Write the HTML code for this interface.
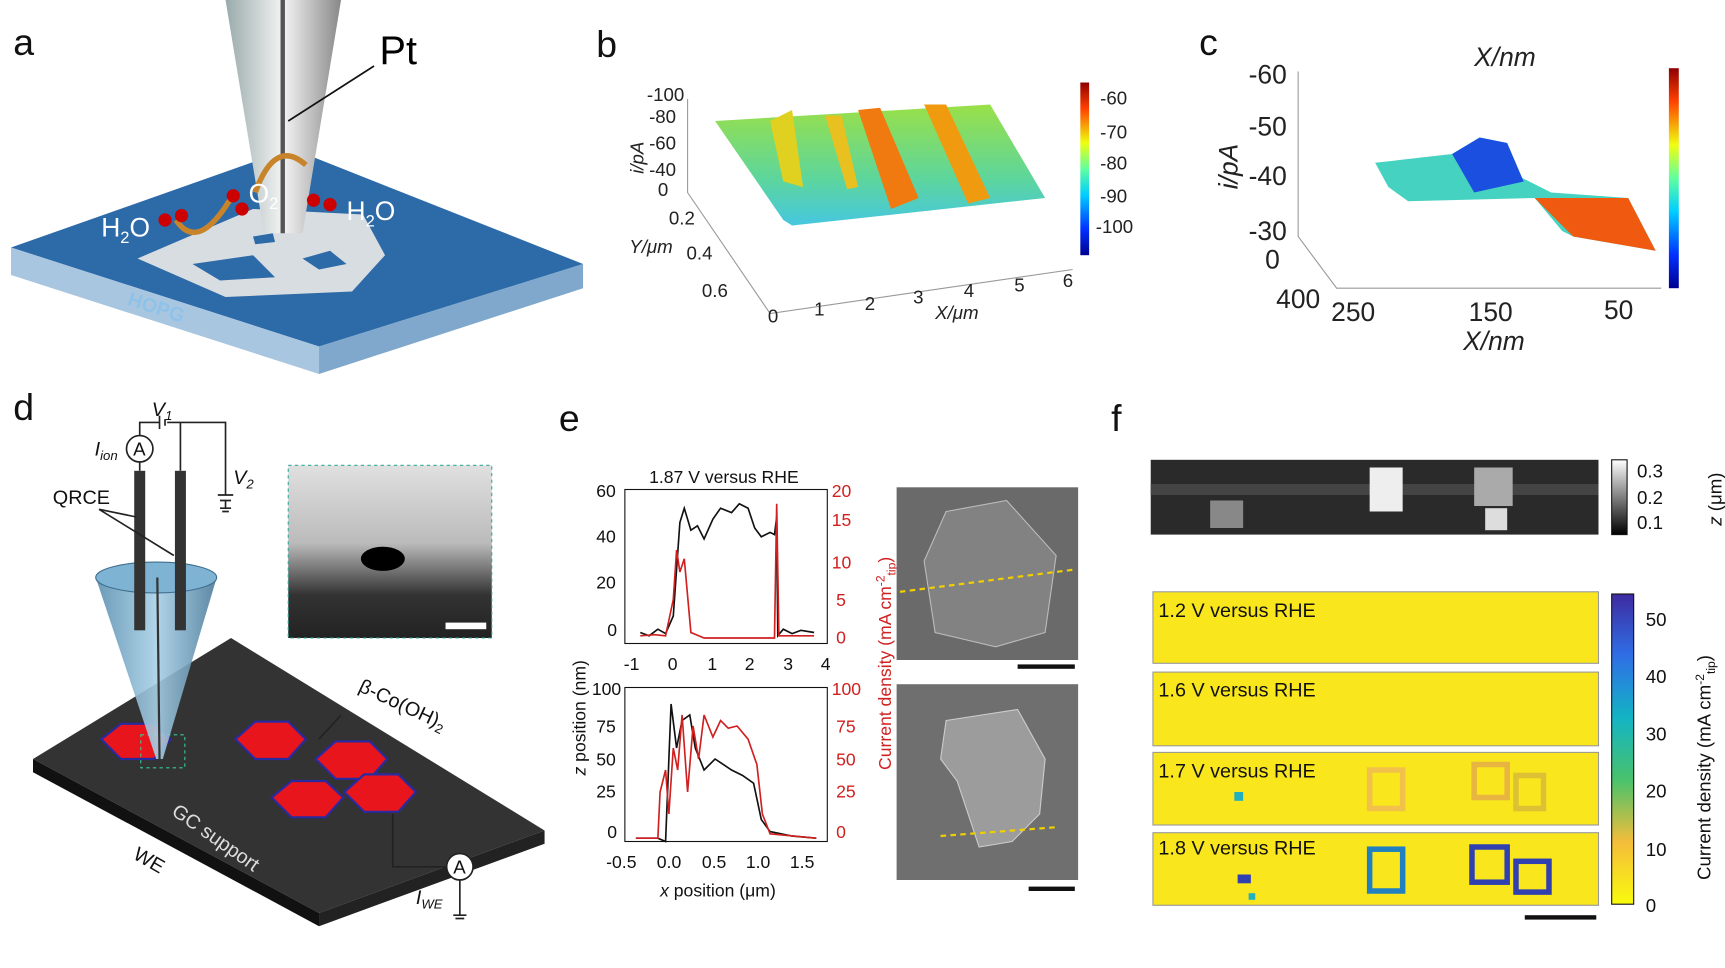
<!DOCTYPE html>
<html><head><meta charset="utf-8"><style>
html,body{margin:0;padding:0;background:#fff;}
svg{display:block;font-family:"Liberation Sans",sans-serif;}
</style></head><body>
<svg width="1725" height="968" viewBox="0 0 1568 880" preserveAspectRatio="none" xmlns="http://www.w3.org/2000/svg">
<defs>
<linearGradient id="jet" x1="0" y1="1" x2="0" y2="0">
<stop offset="0" stop-color="#00008f"/><stop offset="0.15" stop-color="#0030ff"/><stop offset="0.35" stop-color="#00cfff"/><stop offset="0.5" stop-color="#60ff9f"/><stop offset="0.65" stop-color="#efff10"/><stop offset="0.85" stop-color="#ff4000"/><stop offset="1" stop-color="#8f0000"/>
</linearGradient>
<linearGradient id="parula" x1="0" y1="1" x2="0" y2="0">
<stop offset="0" stop-color="#f9fb0e"/><stop offset="0.2" stop-color="#f4bd3a"/><stop offset="0.4" stop-color="#4ac26c"/><stop offset="0.6" stop-color="#13b4c4"/><stop offset="0.8" stop-color="#2f6fe6"/><stop offset="1" stop-color="#3e2ba0"/>
</linearGradient>
<linearGradient id="gray" x1="0" y1="1" x2="0" y2="0"><stop offset="0" stop-color="#000"/><stop offset="1" stop-color="#fff"/></linearGradient>
<linearGradient id="surfb" x1="0" y1="0" x2="0" y2="1"><stop offset="0" stop-color="#9ae048"/><stop offset="0.6" stop-color="#5ed69a"/><stop offset="1" stop-color="#46c7e0"/></linearGradient>
<linearGradient id="tip" x1="0" y1="0" x2="1" y2="0"><stop offset="0" stop-color="#9aa"/><stop offset="0.5" stop-color="#f4f4f4"/><stop offset="1" stop-color="#888"/></linearGradient>
<linearGradient id="cone" x1="0" y1="0" x2="1" y2="0"><stop offset="0" stop-color="#5a8fb0"/><stop offset="0.5" stop-color="#a8d0e6"/><stop offset="1" stop-color="#4a7a9a"/></linearGradient>
<linearGradient id="inset" x1="0" y1="0" x2="0" y2="1"><stop offset="0" stop-color="#e0e0e0"/><stop offset="0.45" stop-color="#bbb"/><stop offset="0.75" stop-color="#333"/><stop offset="1" stop-color="#222"/></linearGradient>
</defs>
<g font-size="34" fill="#111">
<text x="12" y="50">a</text><text x="542" y="52">b</text><text x="1090" y="50">c</text>
<text x="12" y="382">d</text><text x="508" y="392">e</text><text x="1010" y="392">f</text>
</g>
<!-- panel a -->
<polygon points="10,225 265,135 530,240 290,315" fill="#2d6aa8"/>
<polygon points="10,225 290,315 290,340 10,250" fill="#a9c6e0"/>
<polygon points="290,315 530,240 530,262 290,340" fill="#7fa8cc"/>
<polygon points="125,235 230,190 330,195 350,232 320,265 205,270" fill="#d8dde2"/>
<polygon points="175,240 230,232 250,252 200,255" fill="#2d6aa8"/>
<polygon points="275,235 300,228 315,240 290,245" fill="#2d6aa8"/>
<polygon points="230,215 248,212 250,220 232,222" fill="#2d6aa8"/>
<text x="115" y="277" font-size="18" font-weight="bold" fill="#8fc2e8" transform="rotate(18 115 277)">HOPG</text>
<polygon points="205,0 310,0 275,212 240,212" fill="url(#tip)"/>
<line x1="257" y1="0" x2="257" y2="212" stroke="#555" stroke-width="4"/>
<line x1="262" y1="110" x2="340" y2="60" stroke="#111" stroke-width="1.5"/>
<text x="345" y="58" font-size="36">Pt</text>
<path d="M232,175 Q250,125 278,150" fill="none" stroke="#c8842a" stroke-width="5"/>
<path d="M160,200 Q180,230 210,180" fill="none" stroke="#c8842a" stroke-width="5"/>
<circle cx="212" cy="178" r="6" fill="#c00"/><circle cx="220" cy="190" r="6" fill="#c00"/>
<circle cx="150" cy="200" r="6" fill="#c00"/><circle cx="165" cy="196" r="6" fill="#c00"/>
<circle cx="285" cy="182" r="6" fill="#c00"/><circle cx="300" cy="186" r="6" fill="#c00"/>
<g fill="#fff" font-size="24"><text x="226" y="184">O<tspan font-size="15" dy="6">2</tspan></text>
<text x="92" y="215">H<tspan font-size="15" dy="6">2</tspan><tspan dy="-6">O</tspan></text>
<text x="315" y="200">H<tspan font-size="15" dy="6">2</tspan><tspan dy="-6">O</tspan></text></g>
<!-- panel b -->
<polygon points="650,110 900,95 950,180 720,205 712,200" fill="url(#surfb)"/>
<polygon points="700,110 720,100 730,170 712,165" fill="#e0d020"/>
<polygon points="780,100 800,98 835,180 810,190" fill="#f07a10"/>
<polygon points="840,95 860,95 900,180 880,185" fill="#f09a10"/>
<polygon points="750,105 765,105 780,170 770,172" fill="#e8c020"/>
<g stroke="#999" fill="none"><path d="M625,90 L625,175 L700,285 L975,245"/></g>
<g font-size="17" fill="#222" font-style="normal">
<text x="588" y="92">-100</text><text x="590" y="112">-80</text><text x="590" y="136">-60</text><text x="590" y="160">-40</text><text x="598" y="178">0</text>
<text x="608" y="204">0.2</text><text x="624" y="236">0.4</text><text x="638" y="270">0.6</text>
<text x="572" y="230" font-style="italic">Y/μm</text>
<text x="698" y="293">0</text><text x="740" y="287">1</text><text x="786" y="282">2</text><text x="830" y="276">3</text><text x="876" y="270">4</text><text x="922" y="265">5</text><text x="966" y="261">6</text>
<text x="850" y="290" font-style="italic">X/μm</text>
<text x="585" y="158" font-style="italic" transform="rotate(-90 585 158)">i/pA</text>
</g>
<rect x="982" y="75" width="8" height="157" fill="url(#jet)"/>
<g font-size="17" fill="#222"><text x="1000" y="95">-60</text><text x="1000" y="126">-70</text><text x="1000" y="154">-80</text><text x="1000" y="184">-90</text><text x="996" y="212">-100</text></g>
<!-- panel c -->
<polygon points="1250,148 1320,140 1345,125 1370,130 1380,160 1410,175 1480,180 1505,228 1430,215 1420,210 1395,180 1280,183 1262,170" fill="#46d2c0"/>
<polygon points="1320,140 1345,125 1370,130 1385,165 1340,175" fill="#1a4fe0"/>
<polygon points="1395,180 1480,180 1505,228 1430,215" fill="#f05a10"/>
<g stroke="#999" fill="none"><path d="M1180,65 L1180,215 L1215,262 L1510,262"/></g>
<g font-size="24" fill="#222"><text x="1135" y="76">-60</text><text x="1135" y="123">-50</text><text x="1135" y="168">-40</text><text x="1135" y="218">-30</text><text x="1150" y="244">0</text>
<text x="1160" y="280">400</text><text x="1210" y="292">250</text><text x="1335" y="292">150</text><text x="1458" y="290">50</text>
<text x="1330" y="318" font-style="italic">X/nm</text><text x="1340" y="60" font-style="italic">X/nm</text>
<text x="1125" y="172" font-style="italic" transform="rotate(-90 1125 172)">i/pA</text></g>
<rect x="1517" y="62" width="9" height="200" fill="url(#jet)"/>
<!-- panel d -->
<polygon points="30,690 210,580 495,755 290,830" fill="#333"/>
<polygon points="30,690 290,830 290,842 30,702" fill="#111"/>
<polygon points="290,830 495,755 495,767 290,842" fill="#222"/>
<g fill="#e8161c" stroke="#2a2aa0" stroke-width="2">
<polygon points="92,672 110,658 140,658 155,672 140,690 110,690"/>
<polygon points="214,672 232,656 262,656 278,672 262,690 232,690"/>
<polygon points="287,690 305,674 336,674 352,690 336,708 305,708"/>
<polygon points="247,725 265,710 296,710 312,725 296,743 265,743"/>
<polygon points="313,720 331,704 362,704 378,720 362,738 331,738"/>
</g>
<rect x="128" y="668" width="40" height="30" fill="none" stroke="#3c9" stroke-dasharray="3,3"/>
<polygon points="87,525 197,525 148,690 142,690" fill="url(#cone)" opacity="0.9"/>
<ellipse cx="142" cy="525" rx="55" ry="14" fill="#7fb3d3" stroke="#3f6f8f"/>
<rect x="122" y="428" width="10" height="145" fill="#333"/><rect x="159" y="428" width="10" height="145" fill="#333"/>
<line x1="143" y1="525" x2="145" y2="690" stroke="#333" stroke-width="2"/>
<g stroke="#222" fill="none" stroke-width="1.5"><path d="M127,428 V408"/><circle cx="127" cy="408" r="12" fill="#fff"/><path d="M127,396 V384 H145 M152,384 H205 V450 M164,428 V384"/><path d="M145,378 V390 M150,381 V387"/><path d="M198,450 H212 M200,455 H210 M205,455 V462 M200,462 H210 M202,465 H208"/>
<path d="M90,463 L124,470 M90,463 L158,505"/>
<path d="M357,740 V788 H405"/><circle cx="418" cy="788" r="12" fill="#fff"/><path d="M418,800 V832 M412,832 H424 M414,835 H422"/>
<path d="M310,650 L290,672"/></g>
<g font-size="18" fill="#111"><text x="121" y="414" font-size="17">A</text><text x="412" y="794" font-size="17">A</text>
<text x="138" y="378" font-style="italic">V<tspan font-size="12" dy="4">1</tspan></text>
<text x="212" y="440" font-style="italic">V<tspan font-size="12" dy="4">2</tspan></text>
<text x="86" y="414" font-style="italic">I<tspan font-size="12" dy="4">ion</tspan></text>
<text x="48" y="458">QRCE</text>
<text x="378" y="822" font-style="italic">I<tspan font-size="12" dy="4">WE</tspan></text>
<text x="120" y="780" transform="rotate(30 120 780)">WE</text>
<text x="155" y="740" fill="#ddd" transform="rotate(35 155 740)">GC support</text>
<text x="325" y="628" transform="rotate(25 325 628)">β-Co(OH)<tspan font-size="12" dy="4">2</tspan></text></g>
<rect x="262" y="423" width="185" height="157" fill="url(#inset)" stroke="#3a9" stroke-dasharray="3,3"/>
<ellipse cx="348" cy="508" rx="20" ry="11" fill="#000"/>
<rect x="405" y="566" width="37" height="6" fill="#fff"/>
<!-- panel e -->
<g font-size="16" fill="#111">
<text x="590" y="439">1.87 V versus RHE</text>
<rect x="568" y="445" width="184" height="140" fill="none" stroke="#111"/>
<rect x="568" y="625" width="184" height="140" fill="none" stroke="#111"/>
<text x="542" y="452">60</text><text x="542" y="493">40</text><text x="542" y="535">20</text><text x="552" y="578">0</text>
<text x="567" y="609">-1</text><text x="607" y="609">0</text><text x="643" y="609">1</text><text x="677" y="609">2</text><text x="712" y="609">3</text><text x="746" y="609">4</text>
<g fill="#d02020"><text x="756" y="452">20</text><text x="756" y="478">15</text><text x="756" y="517">10</text><text x="760" y="551">5</text><text x="760" y="585">0</text>
<text x="756" y="632">100</text><text x="760" y="666">75</text><text x="760" y="696">50</text><text x="760" y="725">25</text><text x="760" y="762">0</text>
<text x="810" y="700" transform="rotate(-90 810 700)">Current density (mA cm<tspan font-size="11" dy="-6">-2</tspan><tspan font-size="11" dy="10">tip</tspan><tspan dy="-4">)</tspan></text></g>
<text x="538" y="632">100</text><text x="542" y="666">75</text><text x="542" y="696">50</text><text x="542" y="725">25</text><text x="552" y="762">0</text>
<text x="551" y="789">-0.5</text><text x="597" y="789">0.0</text><text x="638" y="789">0.5</text><text x="678" y="789">1.0</text><text x="718" y="789">1.5</text>
<text x="600" y="815"><tspan font-style="italic">x</tspan> position (μm)</text>
<text x="532" y="705" transform="rotate(-90 532 705)"><tspan font-style="italic">z</tspan> position (nm)</text>
</g>
<polyline fill="none" stroke="#111" stroke-width="1.5" points="582,575 590,578 598,572 605,576 612,560 618,475 622,462 628,482 634,478 640,490 648,472 655,462 665,466 672,458 680,462 686,480 692,488 700,484 704,486 706,470 707,578 712,572 720,576 728,573 740,575"/>
<polyline fill="none" stroke="#d02020" stroke-width="1.5" points="582,578 595,577 605,578 612,545 615,500 618,520 622,508 628,575 640,580 680,580 704,580 706,458 708,578 740,578"/>
<polyline fill="none" stroke="#111" stroke-width="1.5" points="578,762 598,762 605,765 610,640 615,680 620,655 627,650 632,680 640,700 650,690 665,700 675,705 685,712 692,745 700,756 720,760 742,762"/>
<polyline fill="none" stroke="#d02020" stroke-width="1.5" points="578,762 598,762 600,720 605,700 608,740 612,680 616,700 620,650 625,720 630,660 635,690 640,650 648,670 655,655 662,662 670,660 680,672 688,695 693,740 700,758 742,762"/>
<rect x="815" y="443" width="165" height="157" fill="#6a6a6a"/>
<polygon points="860,465 915,455 960,505 950,575 905,588 850,575 840,510" fill="#828282" stroke="#bbb"/>
<line x1="818" y1="538" x2="975" y2="518" stroke="#f0d000" stroke-width="2" stroke-dasharray="5,4"/>
<rect x="925" y="604" width="52" height="4" fill="#111"/>
<rect x="815" y="622" width="165" height="178" fill="#6f6f6f"/>
<polygon points="860,655 925,645 950,690 945,740 920,765 890,770 870,710 855,690" fill="#9c9c9c" stroke="#ccc"/>
<line x1="855" y1="760" x2="960" y2="752" stroke="#f0d000" stroke-width="2" stroke-dasharray="5,4"/>
<rect x="935" y="806" width="42" height="4" fill="#111"/>
<!-- panel f -->
<rect x="1046" y="418" width="407" height="68" fill="#2a2a2a"/>
<rect x="1046" y="440" width="407" height="10" fill="#444"/>
<rect x="1100" y="455" width="30" height="25" fill="#888"/>
<rect x="1245" y="425" width="30" height="40" fill="#eee"/>
<rect x="1340" y="425" width="35" height="35" fill="#aaa"/>
<rect x="1350" y="462" width="20" height="20" fill="#ddd"/>
<rect x="1465" y="418" width="14" height="68" fill="url(#gray)" stroke="#111"/>
<g font-size="17" fill="#111"><text x="1488" y="434">0.3</text><text x="1488" y="458">0.2</text><text x="1488" y="481">0.1</text>
<text x="1565" y="478" transform="rotate(-90 1565 478)"><tspan font-style="italic">z</tspan> (μm)</text></g>
<g fill="#f9e61c" stroke="#999">
<rect x="1048" y="538" width="405" height="65"/><rect x="1048" y="611" width="405" height="67"/>
<rect x="1048" y="684" width="405" height="66"/><rect x="1048" y="757" width="405" height="66"/></g>
<g font-size="18" fill="#111"><text x="1053" y="561">1.2 V versus RHE</text><text x="1053" y="633">1.6 V versus RHE</text><text x="1053" y="707">1.7 V versus RHE</text><text x="1053" y="777">1.8 V versus RHE</text></g>
<g fill="none" stroke-width="5">
<rect x="1245" y="700" width="30" height="35" stroke="#f0b060" opacity="0.7"/>
<rect x="1340" y="695" width="30" height="30" stroke="#e0a050" opacity="0.7"/>
<rect x="1378" y="705" width="25" height="30" stroke="#d0b040" opacity="0.7"/>
<rect x="1245" y="772" width="30" height="38" stroke="#2080c0"/>
<rect x="1338" y="770" width="32" height="32" stroke="#3040b0"/>
<rect x="1378" y="783" width="30" height="28" stroke="#3040b0"/>
</g>
<rect x="1122" y="720" width="8" height="8" fill="#20b0c0"/>
<rect x="1125" y="795" width="12" height="8" fill="#3040b0"/><rect x="1135" y="812" width="6" height="6" fill="#20b0c0"/>
<rect x="1465" y="540" width="20" height="282" fill="url(#parula)" stroke="#111"/>
<g font-size="17" fill="#111"><text x="1496" y="569">50</text><text x="1496" y="621">40</text><text x="1496" y="673">30</text><text x="1496" y="725">20</text><text x="1496" y="778">10</text><text x="1496" y="829">0</text>
<text x="1555" y="800" transform="rotate(-90 1555 800)">Current density (mA cm<tspan font-size="11" dy="-6">-2</tspan><tspan font-size="11" dy="10">tip</tspan><tspan dy="-4">)</tspan></text></g>
<rect x="1386" y="832" width="65" height="4" fill="#111"/>
</svg>
</body></html>
